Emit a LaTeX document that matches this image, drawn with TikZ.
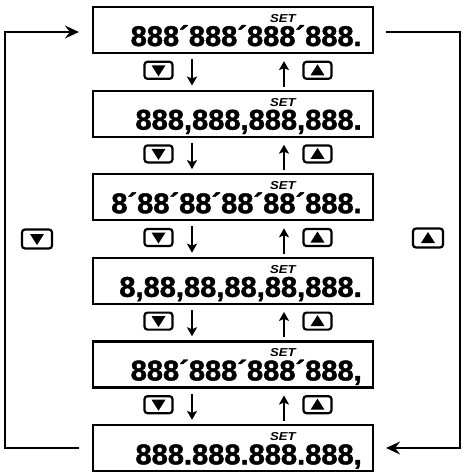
\documentclass[tikz,border=0pt]{standalone}
\usepackage{fontspec}
\usepackage{graphicx}
\usetikzlibrary{arrows.meta}
\newfontfamily\dispfont{Liberation Sans}[FakeBold=1.6]
\newfontfamily\setfont{Liberation Sans}
\tikzset{
 box/.style={draw, line width=2.2pt, minimum width=280pt, minimum height=46pt, inner sep=0pt},
 disp/.style={anchor=base east, inner sep=0pt, font=\dispfont\bfseries\fontsize{28.5}{28.5}\selectfont},
 setlbl/.style={anchor=base, inner sep=0pt, font=\setfont\bfseries\itshape\fontsize{12.5}{12.5}\selectfont},
 keybox/.style={draw, line width=2.2pt, rounded corners=3pt, minimum width=28pt, minimum height=17pt, inner sep=0pt},
 sidekey/.style={keybox, minimum width=30pt, minimum height=19pt},
 conn/.style={line width=1.8pt, -{Stealth[length=14pt,width=13pt,inset=5pt]}},
 sconn/.style={line width=1.7pt, -{Stealth[length=9pt,width=10pt,inset=2pt]}},
 tri/.style={fill=black},
}
\newcommand\dnkey[3][keybox]{\node[#1] (#2) at (#3) {};
  \fill[tri] (#2.center) ++(-7,-5) -- ++(14,0) -- ++(-7,11) -- cycle;}
\newcommand\upkey[3][keybox]{\node[#1] (#2) at (#3) {};
  \fill[tri] (#2.center) ++(-7,5) -- ++(14,0) -- ++(-7,-11) -- cycle;}
\newcommand\disptext[1]{\scalebox{1.02}[1]{#1}}
\newcommand\settext{\scalebox{1.05}[0.92]{SET}}
\begin{document}
\begin{tikzpicture}[x=1pt,y=-1pt]
\useasboundingbox (0,0) rectangle (465,475);
% boxes
\foreach \i/\t in {1/7,2/90.6,3/174.2,4/257.8,5/341.4,6/425}{
  \node[box] (b\i) at (233,\t+23) {};
  \node[setlbl] (s\i) at (283,\t+15.5) {\settext};
}
\node[disp] (t1) at (362,46) {\disptext{888´888´888´888.}};
\node[disp] (t2) at (362,129.6) {\disptext{888,888,888,888.}};
\node[disp] (t3) at (362,213.2) {\disptext{8´88´88´88´88´888.}};
\node[disp] (t4) at (362,296.8) {\disptext{8,88,88,88,88,888.}};
\node[disp] (t5) at (362,380.4) {\disptext{888´888´888´888,}};
\node[disp] (t6) at (362,464.3) {\disptext{888.888.888.888,}};
% arrow columns
\coordinate (dx) at (192,0);
\coordinate (ux) at (284,0);
\coordinate (lx) at (5,0);
\coordinate (rx) at (460,0);
\foreach \i/\j/\ky in {1/2/70.3,2/3/153.9,3/4/237.5,4/5/321.1,5/6/404.7}{
  \dnkey{kd\i}{158.5,\ky}
  \upkey{ku\i}{317.5,\ky}
  \draw[sconn, shorten <=5pt, shorten >=4pt] (b\i.south -| dx) -- (b\j.north -| dx);
  \draw[sconn, shorten <=3pt, shorten >=7pt] (b\j.north -| ux) -- (b\i.south -| ux);
}
% side keys
\dnkey[sidekey]{kl}{37,239}
\upkey[sidekey]{kr}{428,238}
% loops
\draw[conn, shorten >=13pt] ([xshift=-13pt]b6.west) -- (b6.west -| lx) -- ([yshift=-2pt]b1.west -| lx) -- ([yshift=-2pt]b1.west);
\draw[conn, shorten >=12pt] ([xshift=12pt,yshift=-2pt]b1.east) -- ([yshift=-2pt]b1.east -| rx) -- (b6.east -| rx) -- (b6.east);
\end{tikzpicture}
\end{document}
